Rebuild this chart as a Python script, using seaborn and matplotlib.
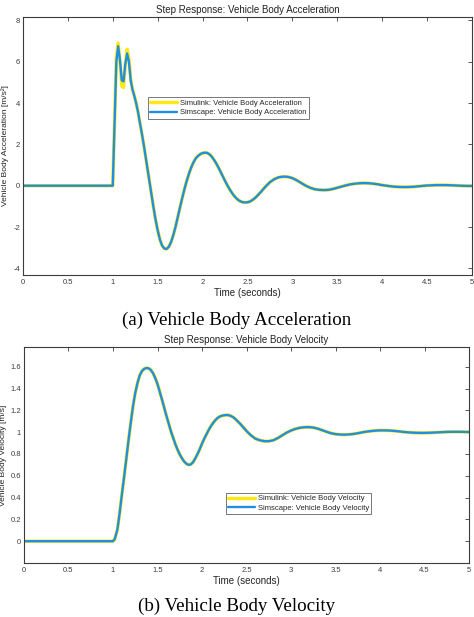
import numpy as np
import pandas as pd
import matplotlib
matplotlib.use('Agg')
import matplotlib.pyplot as plt
import seaborn as sns

# time grids (seconds): fine steps where the curves bend fast
ACC_TIME = [0.0, 1.0] + [round(1.02 + 0.02 * i, 3) for i in range(15)] + \
           [round(1.325 + 0.025 * i, 3) for i in range(52)] + \
           [round(2.65 + 0.05 * i, 3) for i in range(48)]
VEL_TIME = [0.0, 1.0, 1.02] + [round(1.05 + 0.025 * i, 3) for i in range(59)] + \
           [round(2.55 + 0.05 * i, 3) for i in range(50)]

# acceleration, the first part differs slightly between the two models
ACC_HEAD_SIMULINK = [0, 0, 3.1, 6.2, 6.9, 6.0, 4.85, 4.75, 5.9, 6.6, 6.15,
                     5.15, 4.65, 4.35, 4.0, 3.6, 3.1]
ACC_HEAD_SIMSCAPE = [0, 0, 3.0, 6.0, 6.75, 6.1, 5.1, 5.05, 5.9, 6.4, 6.0,
                     5.1, 4.65, 4.35, 4.0, 3.6, 3.1]
ACC_MID = [2.5, 1.85, 1.15, 0.45, -0.25, -0.95, -1.6, -2.15, -2.6, -2.9,
           -3.04, -3.06, -2.95, -2.72, -2.38, -1.97, -1.5, -1.03, -0.57, -0.14,
           0.25, 0.6, 0.9, 1.14, 1.33, 1.44, 1.53, 1.58, 1.6, 1.59,
           1.53, 1.42, 1.27, 1.1, 0.9, 0.68, 0.46, 0.24, 0.03, -0.16,
           -0.33, -0.48, -0.6, -0.7, -0.76, -0.8, -0.81, -0.8, -0.77, -0.71,
           -0.63, -0.53]
ACC_TAIL = [-0.3, -0.05, 0.17, 0.32, 0.41, 0.44, 0.43, 0.37, 0.26, 0.13,
            0.0, -0.1, -0.17, -0.2, -0.21, -0.2, -0.16, -0.1, -0.04, 0.02,
            0.07, 0.1, 0.12, 0.13, 0.12, 0.1, 0.07, 0.03, 0.0, -0.03,
            -0.05, -0.06, -0.065, -0.06, -0.05, -0.03, -0.01, 0.01, 0.02, 0.03,
            0.03, 0.03, 0.025, 0.015, 0.005, -0.005, -0.01, -0.01]

# velocity (both models practically identical)
VEL_HEAD = [0, 0, 0.02]
VEL_MID = [0.11, 0.26, 0.43, 0.59, 0.76, 0.93, 1.09, 1.24, 1.36, 1.45,
           1.52, 1.56, 1.58, 1.588, 1.585, 1.57, 1.54, 1.495, 1.44, 1.37,
           1.30, 1.225, 1.15, 1.08, 1.01, 0.95, 0.89, 0.84, 0.795, 0.76,
           0.73, 0.71, 0.70, 0.705, 0.725, 0.76, 0.80, 0.845, 0.895, 0.94,
           0.98, 1.02, 1.055, 1.085, 1.11, 1.13, 1.143, 1.151, 1.155, 1.157,
           1.155, 1.148, 1.137, 1.12, 1.10, 1.08, 1.057, 1.033, 1.01]
VEL_TAIL = [0.97, 0.94, 0.925, 0.917, 0.917, 0.925, 0.945, 0.97, 0.995, 1.015,
            1.03, 1.04, 1.045, 1.046, 1.042, 1.032, 1.018, 1.003, 0.99, 0.982,
            0.978, 0.977, 0.979, 0.983, 0.99, 0.998, 1.005, 1.01, 1.014, 1.016,
            1.016, 1.015, 1.012, 1.008, 1.003, 0.999, 0.996, 0.994, 0.993, 0.993,
            0.994, 0.996, 0.998, 1.0, 1.002, 1.003, 1.003, 1.003, 1.002, 1.001]

YELLOW = '#ffe81a'
BLUE = '#1e8fe3'
EDGE = '#3c3c3c'


def style_axes(ax, yticks, ylabels, ylim):
    ax.set_xlim(0, 5)
    ax.set_ylim(*ylim)
    ax.set_xticks([0, 0.5, 1, 1.5, 2, 2.5, 3, 3.5, 4, 4.5, 5])
    ax.set_xticklabels(['0', '0.5', '1', '1.5', '2', '2.5', '3', '3.5', '4', '4.5', '5'])
    ax.set_yticks(yticks)
    ax.set_yticklabels(ylabels)
    ax.tick_params(direction='in', length=3, width=0.6, labelsize=5.5,
                   colors=EDGE, top=True, right=True)
    ax.tick_params(axis='y', pad=2)
    ax.tick_params(axis='x', pad=3)
    for s in ax.spines.values():
        s.set_color(EDGE)
        s.set_linewidth(0.8)
    ax.set_xlabel('Time (seconds)', fontsize=7, color='#222222', labelpad=1)


def style_legend(ax, anchor):
    leg = ax.legend(loc='upper left', bbox_to_anchor=anchor, fontsize=5.5,
                    frameon=True, fancybox=False, handlelength=3.5,
                    borderpad=0.3, labelspacing=0.3, handletextpad=0.4)
    leg.get_frame().set_edgecolor(EDGE)
    leg.get_frame().set_linewidth(0.6)


sns.set_theme(style='white')
plt.rcParams['font.family'] = ['Liberation Sans', 'DejaVu Sans']

fig = plt.figure(figsize=(4.74, 6.17), dpi=100)
ax1 = fig.add_axes([0.0485, 0.5543, 0.947, 0.418])
ax2 = fig.add_axes([0.0506, 0.0875, 0.939, 0.350])

acc_tail = ACC_MID + ACC_TAIL
acc_df = pd.DataFrame({
    'Time': ACC_TIME,
    'Simulink': ACC_HEAD_SIMULINK + acc_tail,
    'Simscape': ACC_HEAD_SIMSCAPE + acc_tail,
})
vel = VEL_HEAD + VEL_MID + VEL_TAIL
vel_df = pd.DataFrame({'Time': VEL_TIME, 'Simulink': vel, 'Simscape': vel})

sns.lineplot(data=acc_df, x='Time', y='Simulink', color=YELLOW, lw=2.5,
             label='Simulink: Vehicle Body Acceleration', ax=ax1)
sns.lineplot(data=acc_df, x='Time', y='Simscape', color=BLUE, lw=1.7,
             label='Simscape: Vehicle Body Acceleration', ax=ax1)
style_axes(ax1, [-4, -2, 0, 2, 4, 6, 8],
           ['-4', '-2', '0', '2', '4', '6', '8'], (-4.32, 8.16))
ax1.set_ylabel('Vehicle Body Acceleration [m/s²]', fontsize=6,
               color='#222222')
ax1.yaxis.set_label_coords(-0.031, 0.5)
ax1.set_title('Step Response: Vehicle Body Acceleration', fontsize=7,
              color='#222222', pad=3)
style_legend(ax1, (0.27, 0.705))

sns.lineplot(data=vel_df, x='Time', y='Simulink', color=YELLOW, lw=2.5,
             label='Simulink: Vehicle Body Velocity', ax=ax2)
sns.lineplot(data=vel_df, x='Time', y='Simscape', color=BLUE, lw=1.7,
             label='Simscape: Vehicle Body Velocity', ax=ax2)
style_axes(ax2, [0, 0.2, 0.4, 0.6, 0.8, 1, 1.2, 1.4, 1.6],
           ['0', '0.2', '0.4', '0.6', '0.8', '1', '1.2', '1.4', '1.6'],
           (-0.2, 1.78))
ax2.set_ylabel('Vehicle Body Velocity [m/s]', fontsize=6, color='#222222')
ax2.yaxis.set_label_coords(-0.038, 0.5)
ax2.set_title('Step Response: Vehicle Body Velocity', fontsize=7,
              color='#222222', pad=3)
style_legend(ax2, (0.445, 0.343))

fig.text(0.5, 1 - 320 / 617, '(a) Vehicle Body Acceleration', ha='center',
         va='center', fontsize=13.7, family='Liberation Serif', color='black')
fig.text(0.5, 1 - 606 / 617, '(b) Vehicle Body Velocity', ha='center',
         va='center', fontsize=13.7, family='Liberation Serif', color='black')

fig.savefig('out.png', dpi=100)
